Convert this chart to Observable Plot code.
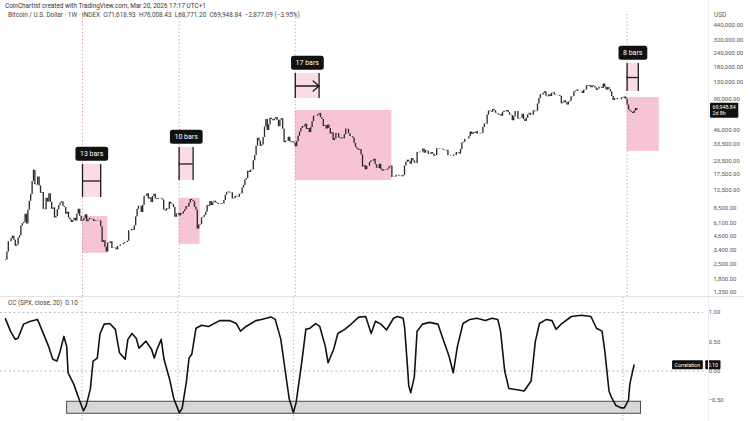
<!DOCTYPE html>
<html><head><meta charset="utf-8">
<script src="https://cdn.jsdelivr.net/npm/d3@7"></script>
<script src="https://cdn.jsdelivr.net/npm/@observablehq/plot@0.6"></script>
<style>
body{margin:0;background:#fff;font-family:Roboto,"Liberation Sans",sans-serif;}
#wrap{position:relative;width:750px;height:421px;overflow:hidden;background:#fff;}
.hdr{position:absolute;font-size:6.4px;color:#333;white-space:nowrap;z-index:3;line-height:7px;}
</style></head><body>
<div id="wrap">
<div id="price" style="position:absolute;left:0;top:0"></div>
<div id="corr" style="position:absolute;left:0;top:296px;border-top:1px solid #e4e4e4;width:745px;"></div>
<div style="position:absolute;left:708px;top:0;width:1px;height:421px;background:#efefef"></div>
<div class="hdr" style="left:5px;top:3px">CoinChartist created with TradingView.com, Mar 20, 2026 17:17 UTC+1</div>
<div class="hdr" style="left:8px;top:12px;color:#444">Bitcoin / U.S. Dollar · 1W · INDEX &nbsp;O71,618.93 &nbsp;H76,008.43 &nbsp;L68,771.20 &nbsp;C69,948.84 &nbsp;−2,877.09 (−3.95%)</div>
<div class="hdr" style="left:714px;top:12px;color:#555">USD</div>
<div class="hdr" style="left:8px;top:300px;color:#444">CC (SPX, close, 20) &nbsp;0.10</div>
</div>
<script>
// ---------- DATA: weekly BTC closes (week index 0 = late Jul 2017) ----------
const firstOpen = 2690;
const close2017 = [2730,3250,4060,4080,4340,4580,4200,3680,3780,4390,4610,5700,6000,6140,7370,5950,8040,9730,11290,15000,19100,14000,13880];
const close2018 = [16500,13600,11600,11800,8200,8100,10400,9600,11500,9550,8200,8450,6800,7000,8100,8900,9400,9650,8700,8500,7350,7700,6780,6500,6150,6380,6750,6350,7400,8200,7040,6300,6400,6700,7300,6250,6500,6700,6630,6580,6300,6400,6350,6400,6350,5600,4000,4150,3600,3250,3950,3900,4050];
const close2019 = [3500,3530,3540,3410,3660,3670,3800,3800,3900,4000,3980,4100,5150,5150,5300,5200,5750,6950,8200,8750,8700,7650,8950,10850,10800,11450,10250,10550,9500,10800,11380,10300,10130,10370,10400,10300,10000,8050,7900,8300,8200,9550,9200,9050,8500,6900,7400,7500,7100,7500,7400,7750];
const close2020 = [8100,8700,8600,9350,10150,9900,9650,8550,8050,5350,5800,5900,6800,6900,7150,7700,8900,8750,9700,8900,9450,9750,9450,9300,9100,9100,9250,9200,9900,11100,11700,11900,11650,11700,10250,10350,10900,10750,10650,11350,11500,13000,13750,15500,16000,18700,18200,19150,19250,23500,26300,32200];
const close2021 = [38200,36000,32200,33100,38900,48700,57500,45200,51200,59000,57500,55800,58000,59800,56200,49000,56600,58200,46400,34700,35700,35800,39100,35500,34700,35300,34250,31800,35400,39900,43800,47100,49300,48800,51800,46100,47300,43200,48200,54700,61500,61100,61300,63300,65500,59700,57300,49400,50100,46700,50800,47300];
const close2022 = [41900,43100,36300,37900,42400,42200,38400,37700,38400,37800,41300,46800,46400,42200,39700,39500,38500,34100,31300,30300,29400,29900,26600,20500,21000,19300,20800,20800,22600,23300,23200,24300,21500,20000,19800,21800,19400,18800,19300,19400,19200,19600,20600,20900,16300,16300,16500,17100,17100,16800,16850,16600];
const close2023 = [17100,20900,22700,23700,22900,21800,24600,23500,22400,22100,28000,27900,28400,28300,30300,27600,29200,28900,26800,26800,28000,27100,25900,26300,30500,30600,30300,30200,29800,29300,29100,29400,26100,26100,25900,25800,26500,26300,28000,27900,27100,30000,34500,35000,37100,37400,37500,39500,43800,41400,43000,42300];
const close2024 = [43900,41700,41600,42100,42600,48300,52100,51700,63100,68900,68400,67200,71300,69300,65700,64900,63100,63800,61500,66900,68500,67800,69600,66600,63200,62700,55900,60800,68200,68300,58100,58700,58900,64200,57300,54800,59100,63600,65600,62800,62900,69000,68000,68700,80400,90600,98000,97300,101200,104500,95200,93700,98300];
const close2025 = [94500,101300,102600,97700,96500,96100,96300,94200,80700,82600,86000,82300,78400,83700,85100,93700,94300,104100,106400,109000,105600,105700,105500,100900,108400,109200,119000,117300,119400,114200,119300,117400,113500,108300,111100,115300,115700,112200,123500,115100,108600,114500,110000,104700,94200,86800,90400,90400,88200,88100,87800,91500];
const close2026 = [90500,93500,89000,78500,70500,68500,67000,65500,68500,72826,69949];

// ---------- DATA: CC(SPX, close, 20) readings (week index, value) ----------
const corrWeek = [0,3.6,7,9,13,18,23,26,31,34,37,39,42,44,45,49,52,56,58,61,63,66,68,71,75,79,82,86,88,91,94,96,101,105,107,109,112,114,118,121,125,127,130,132,134,137,141,146,154,161,166,169,173,180,184,191,194,198,201,204,207,209,213,216,219,223,226,230,232,236,239,244,249,254,259,263,266,270,274,279,282,286,287,289,290,291.4,294,296,300,305,311,314,319,322,325,329,334,339,345,350,354,356,359,362,368,373,378,381,384,389,393,396,400,407,414,421,425,429,431,434,436,439,443,445,448,449,452];
const corrValue = [0.89,0.68,0.54,0.56,0.80,0.85,0.88,0.71,0.42,0.20,0.17,0.31,0.59,0.42,-0.03,-0.22,-0.42,-0.68,-0.59,-0.31,0.17,0.22,0.64,0.80,0.81,0.71,0.31,0.20,0.54,0.64,0.56,0.39,0.51,0.37,0.22,0.37,0.54,0.20,-0.14,-0.47,-0.71,-0.64,-0.20,0.22,0.29,0.73,0.78,0.76,0.86,0.86,0.81,0.68,0.76,0.86,0.88,0.92,0.88,0.54,0.03,-0.47,-0.71,-0.54,0.14,0.71,0.73,0.81,0.76,0.42,0.14,0.37,0.64,0.71,0.81,0.92,0.93,0.64,0.85,0.80,0.70,0.90,0.93,0.90,0.75,0.10,-0.25,-0.37,-0.10,0.68,0.80,0.83,0.80,0.59,0.25,-0.03,0.42,0.81,0.88,0.90,0.86,0.90,0.88,0.68,0.0,-0.30,-0.32,-0.34,-0.17,0.50,0.81,0.88,0.86,0.71,0.81,0.93,0.95,0.93,0.73,0.68,0.34,-0.34,-0.46,-0.59,-0.63,-0.63,-0.50,-0.22,0.10];

// ---------- DATA: annotations ----------
const annStart = [55, 124, 207, 444];
const annBars = [13, 10, 17, 8];
const annLabel = ["13 bars", "10 bars", "17 bars", "8 bars"];
const bigBoxEnd = [73, 139, 276, 467];
const bigBoxTop = [7020, 10380, 69700, 92400];
const bigBoxBottom = [3150, 3830, 15300, 28700];
const hBoxTop = [21600, 31300, 155400, 193000];
const hBoxBottom = [10600, 15300, 90400, 105200];
const priceTicks = [440000,320000,240000,180000,130000,90000,46000,33500,23500,17500,12500,8500,6100,4600,3400,2500,1800,1350];
const corrTicks = [1, 0.5, 0, -0.5];
const lastPrice = 69948.84;
const lastPriceText = "69,948.84\n2d 8h";
const corrLast = 0.10;
const lowZone = {start: 44.3, end: 457, lo: -0.73, hi: -0.525};

// ---------- build ----------
const closes = [].concat(close2017, close2018, close2019, close2020, close2021, close2022, close2023, close2024, close2025, close2026);
const bars = closes.map((c, i) => ({i, open: i === 0 ? firstOpen : closes[i - 1], close: c}));
const ann = annStart.map((s, k) => ({
  s, e: s + annBars[k], label: annLabel[k], be: bigBoxEnd[k], bt: bigBoxTop[k], bb: bigBoxBottom[k],
  ht: hBoxTop[k], hb: hBoxBottom[k], hm: Math.sqrt(hBoxTop[k] * hBoxBottom[k]), arrow: annBars[k] === 17
}));
const corr = corrWeek.map((w, k) => ({w, v: corrValue[k]}));

const xScale = {domain: [-5 / 1.4, 703 / 1.4], range: [0, 708], axis: null};
const dotted = {stroke: "#cf9aa9", strokeWidth: 1, strokeDasharray: "1.2,2.4"};
const TAG = "#fffffe";
const FONT = "Roboto, 'Liberation Sans', sans-serif";
const fmtPrice = d3.format(",.2f");
const fmtCorr = d => (d < 0 ? "−" : "") + Math.abs(d).toFixed(2);

const price = Plot.plot({
  width: 750, height: 296, marginLeft: 0, marginRight: 42, marginTop: 14, marginBottom: 0,
  style: {fontSize: "6px", fontFamily: FONT, color: "#555", background: "transparent", overflow: "visible"},
  x: xScale,
  y: {type: "log", domain: [1350, 440000], range: [292, 25], axis: null},
  marks: [
    Plot.rect(ann, {x1: "s", x2: "be", y1: "bb", y2: "bt", fill: "#f7c4d5"}),
    Plot.rect(ann, {x1: "s", x2: "e", y1: "hb", y2: "ht", fill: "#fbdbe5"}),
    Plot.ruleX(annStart, dotted),
    Plot.ruleX(bars, {x: "i", y1: "open", y2: "close", stroke: "#262626", strokeWidth: 1.3}),
    Plot.ruleX(ann, {x: "s", y1: "hb", y2: "ht", stroke: "#1a1a1a", strokeWidth: 1.3}),
    Plot.ruleX(ann, {x: "e", y1: "hb", y2: "ht", stroke: "#1a1a1a", strokeWidth: 1.3}),
    Plot.ruleY(ann.filter(d => !d.arrow), {y: "hm", x1: "s", x2: "e", stroke: "#1a1a1a", strokeWidth: 1.3}),
    Plot.arrow(ann.filter(d => d.arrow), {x1: "s", x2: "e", y1: "hm", y2: "hm", stroke: "#1a1a1a", strokeWidth: 1.3, headLength: 9, headAngle: 80}),
    Plot.text(priceTicks, {y: d => d, text: fmtPrice, frameAnchor: "right", dx: 5, textAnchor: "start", fill: "#555", fontSize: 6}),
    Plot.text(ann, {x: d => (d.s + d.e) / 2, y: "ht", text: "label", dy: -11, fill: TAG, fontSize: 7}),
    Plot.text([lastPrice], {y: d => d, text: () => lastPriceText, frameAnchor: "right", dx: 4, textAnchor: "start", fill: TAG, fontSize: 5.3, lineHeight: 1.15})
  ]
});

const corrPlot = Plot.plot({
  width: 750, height: 125, marginLeft: 0, marginRight: 42, marginTop: 0, marginBottom: 0,
  style: {fontSize: "6px", fontFamily: FONT, color: "#555", background: "transparent", overflow: "visible"},
  x: xScale,
  y: {domain: [-0.5, 1], range: [103.5, 15], axis: null},
  marks: [
    Plot.ruleY([1, 0], {stroke: "#b8b8b8", strokeWidth: 1, strokeDasharray: "2,2.5"}),
    Plot.ruleX(annStart, dotted),
    Plot.rect([lowZone], {x1: "start", x2: "end", y1: "lo", y2: "hi", fill: "#d7d7d7", stroke: "#4a4a4a", strokeWidth: 1}),
    Plot.line(corr, {x: "w", y: "v", stroke: "#111", strokeWidth: 1.6, strokeLinejoin: "round"}),
    Plot.text(corrTicks, {y: d => d, text: fmtCorr, frameAnchor: "right", dx: 5, textAnchor: "start", fill: "#555", fontSize: 6}),
    Plot.text([corrLast], {y: d => d, text: () => "Correlation", frameAnchor: "right", dx: -3.5, textAnchor: "end", fill: TAG, fontSize: 5.3}),
    Plot.text([corrLast], {y: d => d, text: d => d.toFixed(2), frameAnchor: "right", dx: 4, textAnchor: "start", fill: TAG, fontSize: 5.3})
  ]
});

document.getElementById("price").appendChild(price);
document.getElementById("corr").appendChild(corrPlot);

function addBoxes(svg) {
  svg.querySelectorAll('g[fill="' + TAG + '"] text').forEach(t => {
    const b = t.getBBox();
    const big = parseFloat(t.closest("g").getAttribute("font-size")) >= 7;
    const px = big ? 4.5 : 2.5, py = big ? 3 : 1.5;
    const r = document.createElementNS("http://www.w3.org/2000/svg", "rect");
    r.setAttribute("x", b.x - px);
    r.setAttribute("y", b.y - py);
    r.setAttribute("width", b.width + 2 * px);
    r.setAttribute("height", b.height + 2 * py);
    r.setAttribute("rx", big ? 2.5 : 1);
    r.setAttribute("fill", "#111");
    if (t.getAttribute("transform")) r.setAttribute("transform", t.getAttribute("transform"));
    t.parentNode.insertBefore(r, t);
    t.setAttribute("fill", "#fff");
  });
}
addBoxes(price);
addBoxes(corrPlot);
</script>
</body></html>
